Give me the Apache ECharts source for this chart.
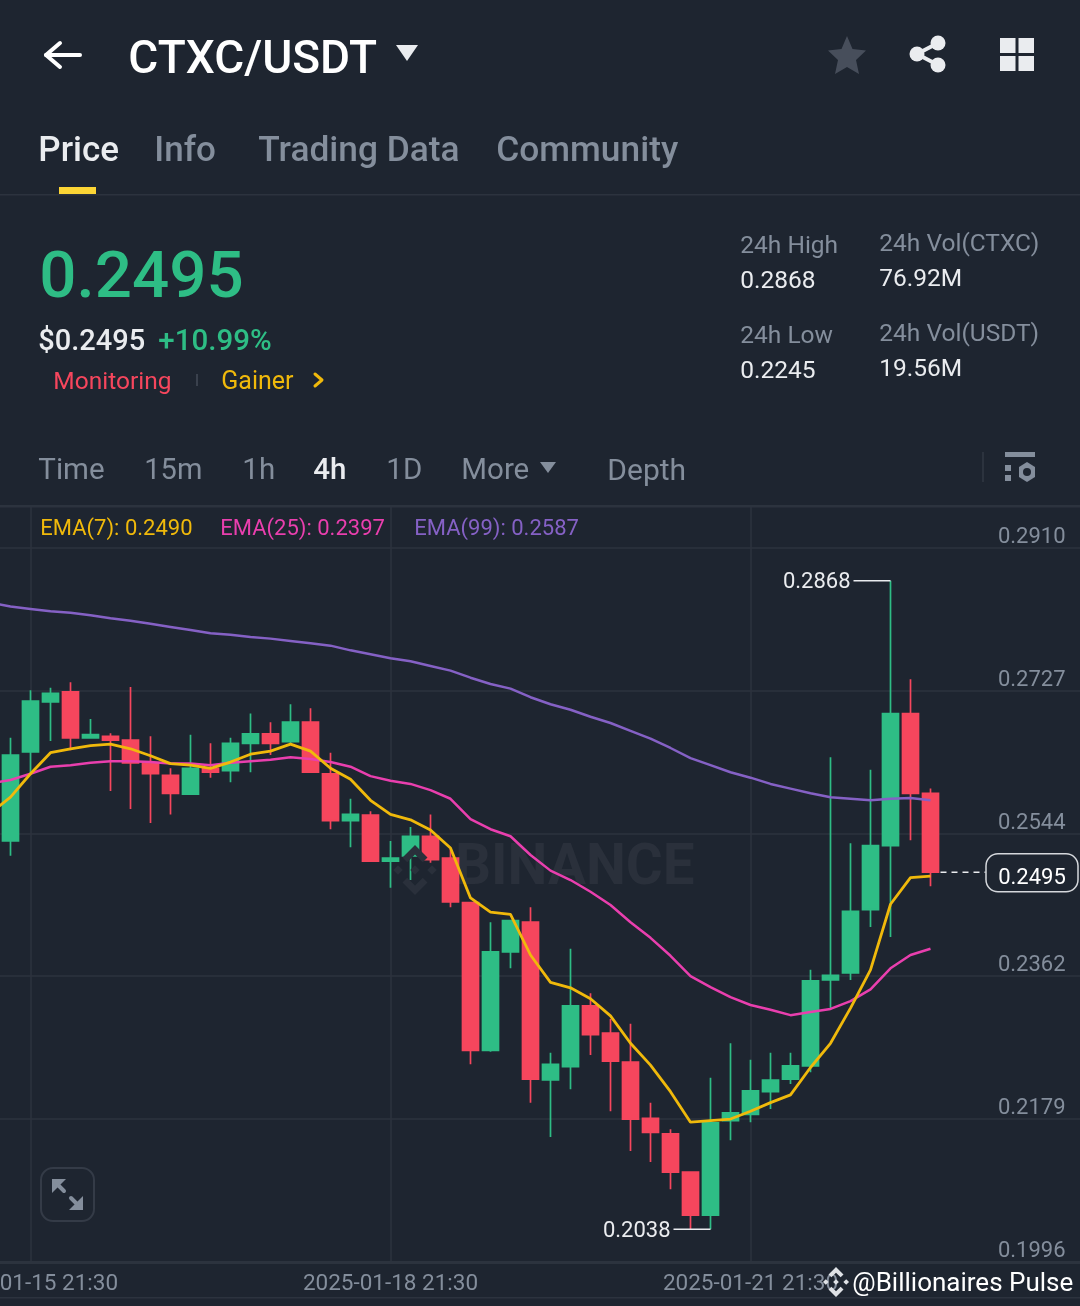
<!DOCTYPE html>
<html>
<head>
<meta charset="utf-8">
<title>CTXC/USDT</title>
<style>
  html, body { margin: 0; padding: 0; background: #1e2530; }
  #chart { width: 1080px; height: 1306px; }
</style>
<script src="https://cdn.jsdelivr.net/npm/echarts@6/dist/echarts.min.js"></script>
</head>
<body>
<div id="chart"></div>
<script>
// first slot is the bar just off the left edge, only the EMAs reach into view from it
const times = [
  "2025-01-15 13:30","2025-01-15 17:30","2025-01-15 21:30","2025-01-16 01:30","2025-01-16 05:30","2025-01-16 09:30","2025-01-16 13:30",
  "2025-01-16 17:30","2025-01-16 21:30","2025-01-17 01:30","2025-01-17 05:30","2025-01-17 09:30","2025-01-17 13:30","2025-01-17 17:30",
  "2025-01-17 21:30","2025-01-18 01:30","2025-01-18 05:30","2025-01-18 09:30","2025-01-18 13:30","2025-01-18 17:30","2025-01-18 21:30",
  "2025-01-19 01:30","2025-01-19 05:30","2025-01-19 09:30","2025-01-19 13:30","2025-01-19 17:30","2025-01-19 21:30","2025-01-20 01:30",
  "2025-01-20 05:30","2025-01-20 09:30","2025-01-20 13:30","2025-01-20 17:30","2025-01-20 21:30","2025-01-21 01:30","2025-01-21 05:30",
  "2025-01-21 09:30","2025-01-21 13:30","2025-01-21 17:30","2025-01-21 21:30","2025-01-22 01:30","2025-01-22 05:30","2025-01-22 09:30",
  "2025-01-22 13:30","2025-01-22 17:30","2025-01-22 21:30","2025-01-23 01:30","2025-01-23 05:30","2025-01-23 09:30","2025-01-23 13:30",
  "2025-01-23 17:30","2025-01-23 21:30","2025-01-24 01:30","2025-01-24 05:30","2025-01-24 09:30","2025-01-24 13:30","2025-01-24 17:30"
];
const opens = ["-",
  .2535,.2649,.2713,.2726,.2667,.2669,.2664,.2635,.2619,.2595,.2628,.2625,.2660,.2672,.2662,.2687,
  .2621,.2561,.2568,.2509,.2516,.2541,.2513,.2456,.2267,.2393,.2431,.2229,.2246,.2324,.2289,.2252,
  .2180,.2160,.2111,.2056,.2177,.2185,.2214,.2230,.2247,.2357,.2366,.2447,.2529,.2698,.2596];
const closes = ["-",
  .2645,.2714,.2724,.2667,.2671,.2664,.2635,.2621,.2596,.2628,.2623,.2660,.2672,.2660,.2687,.2623,
  .2561,.2569,.2509,.2513,.2541,.2511,.2457,.2267,.2393,.2433,.2230,.2249,.2324,.2287,.2253,.2179,
  .2162,.2111,.2056,.2174,.2187,.2215,.2229,.2247,.2356,.2363,.2445,.2529,.2698,.2596,.2495];
const lows = ["-",
  .2516,.2622,.2663,.2651,.2666,.2599,.2576,.2558,.2569,.2595,.2616,.2610,.2623,.2645,.2660,.2622,
  .2550,.2527,.2508,.2475,.2485,.2507,.2450,.2249,.2265,.2372,.2200,.2156,.2217,.2261,.2189,.2138,
  .2124,.2089,.2038,.2038,.2152,.2175,.2192,.2224,.2239,.2319,.2357,.2425,.2412,.2536,.2477];
const highs = ["-",
  .2667,.2728,.2731,.2738,.2691,.2673,.2732,.2669,.2628,.2671,.2660,.2667,.2698,.2687,.2710,.2705,
  .2648,.2589,.2573,.2535,.2553,.2569,.2526,.2457,.2431,.2433,.2450,.2264,.2397,.2340,.2307,.2301,
  .2200,.2166,.2111,.2232,.2276,.2255,.2264,.2264,.2370,.2642,.2532,.2626,.2868,.2742,.2602];
const ema7 = [.2571,
  .2591,.2621,.2648,.2653,.2657,.2659,.2653,.2644,.2634,.2632,.2628,.2636,.2646,.2650,.2659,.2650,
  .2628,.2614,.2587,.2569,.2562,.2549,.2526,.2462,.2444,.2441,.2389,.2354,.2347,.2333,.2311,.2276,
  .2248,.2214,.2175,.2177,.2179,.2189,.2200,.2210,.2245,.2276,.2321,.2370,.2454,.2488,.2490];
const ema25 = [.2609,
  .2613,.2621,.2630,.2632,.2635,.2637,.2637,.2636,.2634,.2634,.2632,.2635,.2637,.2639,.2642,.2640,
  .2636,.2630,.2618,.2612,.2608,.2600,.2589,.2563,.2550,.2541,.2517,.2497,.2485,.2470,.2453,.2431,
  .2411,.2388,.2362,.2348,.2335,.2325,.2319,.2312,.2316,.2320,.2330,.2345,.2372,.2389,.2397];
const ema99 = [.2840,
  .2835,.2832,.2829,.2827,.2824,.2820,.2817,.2813,.2809,.2805,.2801,.2799,.2796,.2794,.2791,.2788,
  .2785,.2779,.2774,.2769,.2765,.2759,.2753,.2744,.2736,.2730,.2719,.2710,.2703,.2694,.2686,.2676,
  .2666,.2654,.2641,.2632,.2623,.2616,.2608,.2602,.2596,.2591,.2589,.2587,.2589,.2590,.2587];
const yTicks = [.1996,.2179,.2362,.2544,.2727,.2910];
const extremes = [[45,.2868],[36,.2038]];
const lastPrice = [[47,.2495]];
const tabs = ["Price","Info","Trading Data","Community"];
const periods = ["Time","15m","1h","4h","1D","More","Depth"];
const legendTexts = ["EMA(7): 0.2490","EMA(25): 0.2397","EMA(99): 0.2587"];

const BG = "#1e2530";
const LINE = "#2c333e";
const GREY = "#848e9c";
const WHITE = "#eaecef";
const UP = "#2ebd85";
const DOWN = "#f6465d";
const FONT = 'Roboto, "Noto Sans", sans-serif';

let chart = echarts.init(document.getElementById("chart"));
const tickIdx = (i) => (i - 2) % 18 === 0;
const candles = opens.map((o, i) => [o, closes[i], lows[i], highs[i]]);

// Roboto sits high in its box, so nudge down by a bit of the size
function txt(x, y, text, size, fill, weight, align, z) {
  return {
    type: "text", z: z || 10,
    style: { x: x - .7, y: y + size * .1, text, fill, textAlign: align || "left", textVerticalAlign: "middle", font: (weight || 400) + " " + size + "px " + FONT }
  };
}
function poly(points, fill, z) {
  return { type: "polygon", z: z || 10, shape: { points }, style: { fill } };
}
function strokeLine(points, stroke, lineWidth, z) {
  return { type: "polyline", z: z || 10, shape: { points }, style: { stroke, lineWidth, fill: null, lineJoin: "round", lineCap: "round" } };
}
function box(x, y, width, height, fill, z) {
  return { type: "rect", z: z || 10, shape: { x, y, width, height }, style: { fill } };
}
// the diamond logo, for the watermark and the footer
function logo(cx, cy, r, fill, z) {
  const d = (x, y, s) => poly([[cx + x * r, cy + (y - s) * r], [cx + (x + s) * r, cy + y * r], [cx + x * r, cy + (y + s) * r], [cx + (x - s) * r, cy + y * r]], fill, z);
  const chevron = (dir) => poly([
    [cx, cy + dir * 1 * r], [cx + .5 * r, cy + dir * .5 * r], [cx + .31 * r, cy + dir * .31 * r], [cx, cy + dir * .62 * r],
    [cx - .31 * r, cy + dir * .31 * r], [cx - .5 * r, cy + dir * .5 * r]
  ], fill, z);
  return [d(0, 0, .19), d(-.68, 0, .19), d(.68, 0, .19), chevron(1), chevron(-1)];
}

const graphics = [
  // header
  strokeLine([[46,55],[80,55]], "#fff", 4), strokeLine([[60,43],[46,55],[60,67]], "#fff", 4),
  txt(129, 57, "CTXC/USDT", 46, "#fff", 500),
  poly([[396,45],[418,45],[407,61]], WHITE),
  poly([[847,36],[852.5,49],[866,50.5],[856,60],[859,74],[847,67],[835,74],[838,60],[828,50.5],[841.5,49]], "#474e5b"),
  strokeLine([[938,43],[917,54],[938,65]], WHITE, 4),
  { type: "circle", z: 10, shape: { cx: 938, cy: 43, r: 7.5 }, style: { fill: WHITE } },
  { type: "circle", z: 10, shape: { cx: 917, cy: 54, r: 7.5 }, style: { fill: WHITE } },
  { type: "circle", z: 10, shape: { cx: 938, cy: 65, r: 7.5 }, style: { fill: WHITE } },
  box(1000,38,15.5,15,WHITE), box(1018.5,38,15.5,15,WHITE), box(1000,56,15.5,15,WHITE), box(1018.5,56,15.5,15,WHITE),

  // tabs
  txt(39, 149, tabs[0], 35, WHITE, 500),
  txt(155, 149, tabs[1], 35, GREY, 500),
  txt(259, 149, tabs[2], 35.3, GREY, 500),
  txt(497, 149, tabs[3], 35.3, GREY, 500),
  box(59,187,37,7,"#fcd535"),
  box(0,194,1080,1.5,LINE),

  // price block
  txt(40, 274, "0.2495", 65.5, UP, 500),
  txt(39, 340, "$0.2495", 29, WHITE, 500),
  txt(159, 340, "+10.99%", 29.5, UP, 500),
  txt(54, 380, "Monitoring", 24.5, DOWN),
  box(196,374,2,12,"#3a414d"),
  txt(222, 380, "Gainer", 25, "#f0b90b"),
  strokeLine([[315,374],[322,380],[315,386]], "#f0b90b", 3),
  txt(741, 244, "24h High", 24.5, GREY),
  txt(741, 279, "0.2868", 24.5, WHITE),
  txt(880, 242, "24h Vol(CTXC)", 24.5, GREY),
  txt(880, 277, "76.92M", 24.5, WHITE),
  txt(741, 334, "24h Low", 24.5, GREY),
  txt(741, 369, "0.2245", 24.5, WHITE),
  txt(880, 332, "24h Vol(USDT)", 24.5, GREY),
  txt(880, 367, "19.56M", 24.5, WHITE),

  // period row
  txt(39, 469, periods[0], 29.5, GREY),
  txt(145, 469, periods[1], 29, GREY),
  txt(243, 469, periods[2], 29.5, GREY),
  txt(314, 469, periods[3], 29.5, WHITE, 500),
  txt(387, 469, periods[4], 29.5, GREY),
  txt(462, 469, periods[5], 29.5, GREY),
  poly([[540,462],[556,462],[548,473]], GREY),
  txt(608, 469, periods[6], 30, GREY),
  box(982,452,2,30,LINE),
  box(1005,452,30,5,GREY), box(1005,465,6,6,GREY), box(1005,475,6,6,GREY),
  poly([[1027,462],[1035,467],[1035,477],[1027,482],[1019,477],[1019,467]], GREY),
  { type: "circle", z: 11, shape: { cx: 1027, cy: 472, r: 4 }, style: { fill: BG } },
  box(0,505,1080,2.5,LINE),

  // indicator legend
  txt(41, 527, legendTexts[0], 22, "#f0b90b"),
  txt(221, 527, legendTexts[1], 22, "#e93fae"),
  txt(415, 527, legendTexts[2], 22, "#8561c5"),

  // watermark, under the candles
  { type: "text", z: 0, style: { x: 455, y: 870, text: "BINANCE", fill: "#2a303b", textVerticalAlign: "middle", font: "700 56.5px " + FONT } },
  ...logo(415, 870, 25, "#2a303b", 0),

  // expand button
  { type: "rect", z: 10, shape: { x: 41, y: 1168, width: 53, height: 53, r: 12 }, style: { fill: null, stroke: "#343b47", lineWidth: 2 } },
  poly([[52,1179],[66,1179],[52,1193]], GREY), strokeLine([[57,1184],[64,1191]], GREY, 4),
  poly([[83,1210],[69,1210],[83,1196]], GREY), strokeLine([[78,1205],[71,1198]], GREY, 4),

  // footer
  box(0,1297,1080,1.5,LINE),
  ...logo(836, 1282, 15, "#dfe2e6", 100),
  txt(853, 1282, "@Billionaires Pulse", 26, "#fff", 400, "left", 100)
];

function renderExtreme(params, api) {
  const p = api.coord([api.value(0), api.value(1)]);
  return {
    type: "group",
    children: [
      { type: "line", shape: { x1: p[0] - 37, y1: p[1], x2: p[0], y2: p[1] }, style: { stroke: WHITE, lineWidth: 1.5 } },
      { type: "text", style: { x: p[0] - 40, y: p[1] + 2, text: api.value(1).toFixed(4), fill: WHITE, textAlign: "right", textVerticalAlign: "middle", font: "22px " + FONT } }
    ]
  };
}
function renderLast(params, api) {
  const p = api.coord([api.value(0), api.value(1)]);
  return {
    type: "group",
    children: [
      { type: "line", shape: { x1: p[0] + 10, y1: p[1], x2: p[0] + 55, y2: p[1] }, style: { stroke: WHITE, lineWidth: 1.5, lineDash: [6, 5] } },
      { type: "rect", shape: { x: 986, y: p[1] - 18.5, width: 92, height: 38, r: 12 }, style: { fill: BG, stroke: "#d5d8dc", lineWidth: 1.5 } },
      { type: "text", style: { x: 1032, y: p[1] + 6, text: api.value(1).toFixed(4), fill: "#fff", textAlign: "center", textVerticalAlign: "middle", font: "22px " + FONT } }
    ]
  };
}
function emaLine(name, data, color, width) {
  return { name, type: "line", data, showSymbol: false, silent: true, z: 4, lineStyle: { color, width }, itemStyle: { color } };
}

let option = {
  backgroundColor: BG,
  animation: false,
  textStyle: { fontFamily: FONT },
  graphic: { elements: graphics },
  grid: { left: -9.5, right: -10.5, top: 507, bottom: 44, containLabel: false, outerBoundsMode: "none" },
  xAxis: {
    type: "category",
    data: times,
    boundaryGap: false,
    axisLine: { lineStyle: { color: LINE, width: 3 } },
    axisTick: { show: false },
    axisLabel: {
      interval: tickIdx,
      color: GREY,
      fontSize: 22.5,
      margin: 11,
      hideOverlap: false
    },
    splitLine: { show: true, interval: tickIdx, lineStyle: { color: LINE, width: 1.5 } }
  },
  yAxis: {
    type: "value",
    position: "right",
    min: .1996,
    max: .29625,
    axisLine: { show: false },
    axisTick: { show: false, customValues: yTicks },
    axisLabel: {
      customValues: yTicks,
      inside: true,
      margin: 25,
      color: GREY,
      fontSize: 22,
      verticalAlign: "bottom",
      lineHeight: 21,
      formatter: (v) => v.toFixed(4)
    },
    splitLine: { show: true, lineStyle: { color: LINE, width: 1.5 } }
  },
  series: [
    {
      type: "candlestick",
      data: candles,
      barWidth: 15.7,
      silent: true,
      itemStyle: { color: UP, color0: DOWN, borderColor: UP, borderColor0: DOWN, borderWidth: 1.7 }
    },
    emaLine("EMA99", ema99, "#8561c5", 2.5),
    emaLine("EMA25", ema25, "#e93fae", 2.5),
    emaLine("EMA7", ema7, "#f0b90b", 2.8),
    { type: "custom", data: extremes, renderItem: renderExtreme, encode: { x: 0, y: 1 }, clip: false, silent: true, z: 6 },
    { type: "custom", data: lastPrice, renderItem: renderLast, encode: { x: 0, y: 1 }, clip: false, silent: true, z: 6 }
  ]
};
option && chart.setOption(option);
</script>
</body>
</html>
